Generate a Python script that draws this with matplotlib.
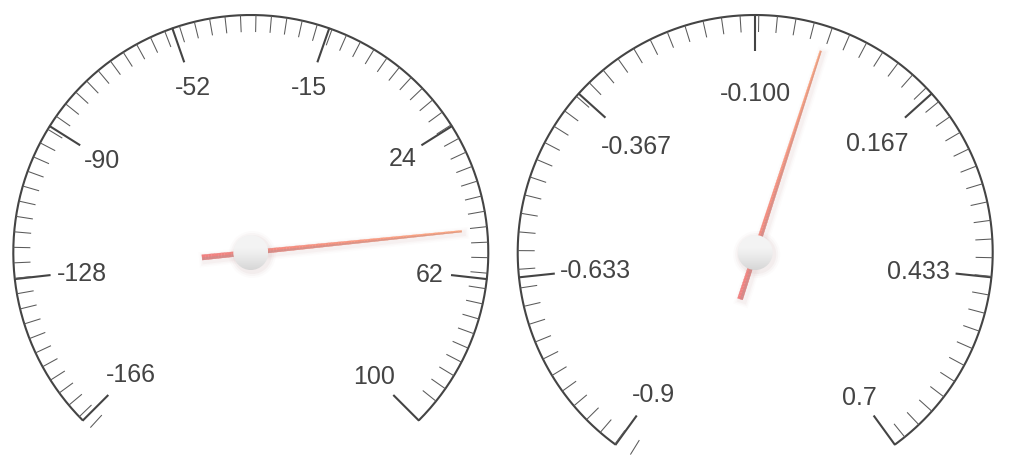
import numpy as np
import matplotlib
matplotlib.use('Agg')
import matplotlib.pyplot as plt
from matplotlib.patches import Polygon, Circle

# ---------------- data ----------------
left_labels = ['-166', '-128', '-90', '-52', '-15', '24', '62', '100']
left_min, left_max = -166, 100
left_value = 50

right_labels = ['-0.9', '-0.633', '-0.367', '-0.100', '0.167', '0.433', '0.7']
right_min, right_max = -0.9, 0.7
right_value = 0.0

# ---------------- style / geometry ----------------
W, H = 1012, 466
R = 237.5
FONT_PX = 25
TEXT_COLOR = '#444444'
LINE_COLOR = '#444444'
MINOR_COLOR = '#5a5a5a'
NEEDLE_START = np.array([240, 128, 128]) / 255.0
NEEDLE_END = np.array([252, 166, 126]) / 255.0
SHADOW_DOWN = (188 / 255, 143 / 255, 143 / 255)

fig = plt.figure(figsize=(W / 100, H / 100), dpi=100)
ax = fig.add_axes([0, 0, 1, 1])
ax.set_xlim(0, W)
ax.set_ylim(H, 0)
ax.axis('off')
renderer = fig.canvas.get_renderer()


def pt(cx, cy, r, th):
    t = np.radians(th)
    return cx + r * np.sin(t), cy - r * np.cos(t)


def draw_gauge(cx, cy, a0, a1, labels, vmin, vmax, value,
               minor_start, minor_step, minor_n):
    # arc
    th = np.linspace(a0, a1, 400)
    xs, ys = pt(cx, cy, R, th)
    ax.plot(xs, ys, color=LINE_COLOR, lw=1.5, solid_capstyle='butt', zorder=2)
    # major ticks
    n = len(labels)
    major = np.linspace(a0, a1, n)
    for a in major:
        x0, y0 = pt(cx, cy, R + 0.5, a)
        x1, y1 = pt(cx, cy, R - 36, a)
        ax.plot([x0, x1], [y0, y1], color=LINE_COLOR, lw=1.5,
                solid_capstyle='butt', zorder=2)
    # minor ticks
    for k in range(minor_n):
        a = minor_start + k * minor_step
        x0, y0 = pt(cx, cy, R, a)
        x1, y1 = pt(cx, cy, R - 17, a)
        ax.plot([x0, x1], [y0, y1], color=MINOR_COLOR, lw=0.75,
                solid_capstyle='butt', zorder=2)
    # labels
    for a, lab in zip(major, labels):
        t = ax.text(0, 0, lab, fontsize=FONT_PX * 0.72, color=TEXT_COLOR,
                    family=['Liberation Sans', 'DejaVu Sans'],
                    ha='center', va='baseline', zorder=3)
        bb = t.get_window_extent(renderer)
        w = bb.width
        rc = 198 - np.sqrt(w ** 2 + 24 ** 2) / 2
        x, y = pt(cx, cy, rc, a)
        t.set_position((x, y + 0.716 * FONT_PX / 2))

    # needle
    av = a0 + (value - vmin) / (vmax - vmin) * (a1 - a0)
    t = np.radians(av)
    u = np.array([np.sin(t), -np.cos(t)])
    p = np.array([np.cos(t), np.sin(t)])  # clockwise side
    c = np.array([cx, cy])
    r_tail, r_tip = -49.0, 212.0
    hw_tail, hw_tip = 2.7, 0.9

    def hw(r):
        return hw_tail + (hw_tip - hw_tail) * (r - r_tail) / (r_tip - r_tail)

    # soft shadow
    off = np.array([2.0, 2.0])
    for grow, al in [(5, 0.025), (3.5, 0.04), (2, 0.06)]:
        poly = [c + u * (r_tail - grow) + p * (hw(r_tail) + grow) + off,
                c + u * (r_tip + grow) + p * (hw(r_tip) + grow) + off,
                c + u * (r_tip + grow) - p * (hw(r_tip) + grow) + off,
                c + u * (r_tail - grow) - p * (hw(r_tail) + grow) + off]
        ax.add_patch(Polygon(poly, closed=True, facecolor=SHADOW_DOWN,
                             edgecolor='none', alpha=al, zorder=4))
    # gradient body
    N = 80
    rs = np.linspace(r_tail, r_tip, N + 1)
    for i in range(N):
        ra, rb = rs[i], rs[i + 1]
        f = (0.5 * (ra + rb) - r_tail) / (r_tip - r_tail)
        col = NEEDLE_START + (NEEDLE_END - NEEDLE_START) * f
        poly = [c + u * ra - p * hw(ra), c + u * rb - p * hw(rb),
                c + u * rb + p * hw(rb), c + u * ra + p * hw(ra)]
        ax.add_patch(Polygon(poly, closed=True, facecolor=col,
                             edgecolor=col, lw=0.2, zorder=5))
    # darker clockwise half
    poly = [c + u * r_tail, c + u * r_tip,
            c + u * r_tip + p * hw(r_tip), c + u * r_tail + p * hw(r_tail)]
    ax.add_patch(Polygon(poly, closed=True, facecolor=SHADOW_DOWN,
                         edgecolor='none', alpha=0.5, zorder=6))

    # pivot
    rp = 17.5
    for grow, al in [(6, 0.03), (4, 0.05), (2, 0.08)]:
        ax.add_patch(Circle((cx + 1.5, cy + 2), rp + grow, facecolor=SHADOW_DOWN,
                            edgecolor='none', alpha=al, zorder=7))
    grad = np.linspace(0, 1, 64)
    top, bot = 0.955, 0.84
    vals = top + (bot - top) * np.clip((grad - 0.35) / 0.65, 0, 1) ** 1.2
    img = np.repeat(vals[:, None], 2, axis=1)
    img = np.dstack([img, img, img])
    im = ax.imshow(img, extent=(cx - rp, cx + rp, cy + rp, cy - rp),
                   origin='upper', aspect='auto', interpolation='bilinear',
                   zorder=8)
    clip = Circle((cx, cy), rp, transform=ax.transData)
    im.set_clip_path(clip)


draw_gauge(250.8, 252.5, -135, 135, left_labels, left_min, left_max, left_value,
           -137.5, 3.75, 72)
draw_gauge(755.2, 252.5, -144, 144, right_labels, right_min, right_max, right_value,
           -148.3, 4.52, 65)

ax.set_xlim(0, W)
ax.set_ylim(H, 0)
fig.savefig('out.png', dpi=100, facecolor='white')
